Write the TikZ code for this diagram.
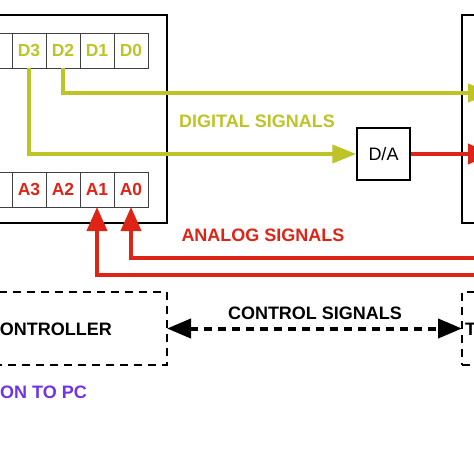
\documentclass[tikz,border=0pt]{standalone}
\usepackage{fontspec}
\setmainfont{Liberation Sans}
\usetikzlibrary{positioning, arrows.meta}
\definecolor{digiyellow}{RGB}{190,196,40}
\definecolor{anared}{RGB}{222,36,22}
\definecolor{pcpurple}{RGB}{112,52,226}

\begin{document}
\begin{tikzpicture}[x=1pt, y=-1pt]
						\tikzstyle{regcell}=[
						draw=black!75,
						line width=1pt,
						minimum width=34pt,
						minimum height=35pt,
						inner sep=0pt,
						outer sep=0pt,
						font=\fontsize{17.5}{20}\selectfont\bfseries
						]
						\tikzstyle{board}=[draw, line width=2pt, inner sep=0pt, outer sep=0pt]
						\tikzstyle{dashbox}=[draw, line width=2pt, dash pattern=on 8pt off 6pt, inner sep=0pt, outer sep=0pt]
						\tikzstyle{caption}=[inner sep=0pt, font=\fontsize{18}{21}\selectfont\bfseries]
						\tikzstyle{digital}=[draw=digiyellow, line width=4pt, -{Triangle[length=24pt,width=18pt]}]
						\tikzstyle{analog}=[draw=anared, line width=4pt, -{Triangle[length=24pt,width=20pt]}]
						\tikzstyle{control}=[draw, line width=4pt, dash pattern=on 8pt off 6pt, {Triangle[length=24pt,width=19pt]}-{Triangle[length=24pt,width=19pt]}]
						\useasboundingbox (0,0) rectangle (474,474);
						\clip (0,0) rectangle (474,474);
						\fill[white] (0,0) rectangle (474,474);
						% boards
						\node[board, minimum width=187pt, minimum height=208pt] (mcu) at (73.5,119) {};
						\node[board, minimum width=40pt, minimum height=208pt] (dev) at (482,119) {};
						% digital register
						\node[regcell] (dx) at (-5,50.5) {};
						\node[regcell, text=digiyellow, right=0pt of dx] (d3) {D3};
						\node[regcell, text=digiyellow, right=0pt of d3] (d2) {D2};
						\node[regcell, text=digiyellow, right=0pt of d2] (d1) {D1};
						\node[regcell, text=digiyellow, right=0pt of d1] (d0) {D0};
						% analog register
						\node[regcell] (ax) at (-5,189.5) {};
						\node[regcell, text=anared, right=0pt of ax] (a3) {A3};
						\node[regcell, text=anared, right=0pt of a3] (a2) {A2};
						\node[regcell, text=anared, right=0pt of a2] (a1) {A1};
						\node[regcell, text=anared, right=0pt of a1] (a0) {A0};
						%
						\node[draw, line width=1.5pt, minimum width=53pt, minimum height=52pt, font=\fontsize{18}{21}\selectfont] (da) at (383.5,154) {D/A};
						\coordinate (dout) at (492,93);
						\coordinate (aout) at (492,154);
						\coordinate (a0in) at (480,258);
						\coordinate (a1in) at (480,275);
						\draw[digital] (d2.south) |- (dout);
						\draw[digital] (d3.south) |- (da.west);
						\draw[analog] (da.east) -- (aout);
						\draw[analog] (a0in) -| (a0.south);
						\draw[analog] (a1in) -| (a1.south);
						\node[caption, text=digiyellow] (digilabel) at (257,121) {DIGITAL SIGNALS};
						\node[caption, text=anared] (analabel) at (263,235) {ANALOG SIGNALS};
						% controller and control signals
						\node[dashbox, minimum width=187pt, minimum height=73pt] (ctrl) at (73.5,328.5) {};
						\node[dashbox, minimum width=40pt, minimum height=73pt] (tbox) at (482,328.5) {};
						\node[caption, anchor=east] (ctrltext) at (112,329) {ONTROLLER};
						\node[caption, anchor=west] (ttext) at (465,329) {T};
						\draw[control] (ctrl.east) -- (tbox.west);
						\node[caption] (ctrllabel) at (315,313) {CONTROL SIGNALS};
						\node[caption, text=pcpurple, anchor=east] (pctext) at (87,392) {ON TO PC};
					\end{tikzpicture}
\end{document}
